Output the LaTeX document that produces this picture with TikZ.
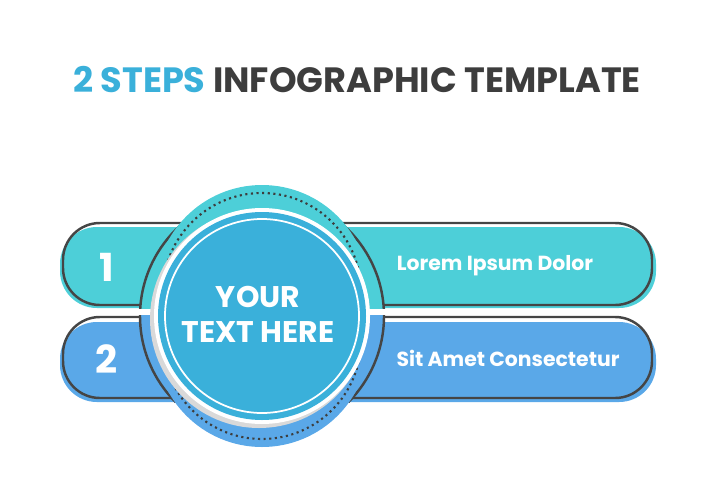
\documentclass[tikz,border=0pt]{standalone}
\usepackage{fontspec}
\setmainfont{Poppins}
\usetikzlibrary{positioning}
\definecolor{tealbar}{HTML}{4DCFD8}
\definecolor{bluebar}{HTML}{5AA8E8}
\definecolor{midblue}{HTML}{3AB0DA}
\definecolor{darkline}{HTML}{454545}
\definecolor{titlegray}{HTML}{3D3D3D}

\begin{document}
\begin{tikzpicture}[x=0.02cm,y=-0.02cm,
                   barfill/.style={rounded corners=21pt},
                   baroutline/.style={draw=darkline, line width=1.4pt, rounded corners=21pt},
                   number/.style={text=white, font=\fontsize{22}{24}\selectfont\bfseries},
                   label/.style={text=white, font=\fontsize{11.6}{13}\selectfont\bfseries},
                   dots/.style={draw=titlegray, line width=1.2pt, dash pattern=on 1.2pt off 2pt}]
 \useasboundingbox (0,0) rectangle (715,500);
 % title
 \node[font=\fontsize{20}{23}\selectfont\bfseries] (title) at (357,80)
   {\textcolor{midblue}{2 STEPS} \textcolor{titlegray}{INFOGRAPHIC TEMPLATE}};
 % bars
 \fill[tealbar, barfill] (60,227) rectangle (656,308);
 \fill[bluebar, barfill] (60,322) rectangle (656,402);
 \draw[baroutline] (63,223) rectangle (652,305);
 \draw[baroutline] (63,317) rectangle (652,398);
 \begin{scope}
  \clip (50,221) rectangle (670,308);
  \fill[tealbar, draw=darkline, line width=1.4pt] (262,316) circle (122);
 \end{scope}
 \begin{scope}
  \clip (50,315) rectangle (670,402);
  \fill[bluebar, draw=darkline, line width=1.4pt] (262,316) circle (122);
 \end{scope}
 % circles behind
 \fill[tealbar] (262,292) circle (107);
 \begin{scope}
  \clip (100,316) rectangle (420,460);
  \fill[bluebar] (262,340) circle (107);
 \end{scope}
 \begin{scope}
  \clip (100,150) rectangle (420,316);
  \draw[dots] (262,292) circle (99);
 \end{scope}
 \begin{scope}
  \clip (100,316) rectangle (420,460);
  \draw[dots] (262,340) circle (99);
 \end{scope}
 % centre disk
 \fill[black!15] (259,319) circle (109);
 \fill[white] (262,316) circle (108);
 \fill[midblue] (262,316) circle (104);
 \draw[white, line width=1pt] (262,316) circle (97);
 \node[text=white, align=center, font=\fontsize{17}{20}\selectfont\bfseries] (centre) at (258,314)
   {YOUR\\TEXT HERE};
 % labels
 \node[number] (one) at (107,267) {1};
 \node[number] (two) at (107,359) {2};
 \node[label] (first) at (495,266) {Lorem Ipsum Dolor};
 \node[label] (second) at (508,358) {Sit Amet Consectetur};
\end{tikzpicture}
\end{document}
